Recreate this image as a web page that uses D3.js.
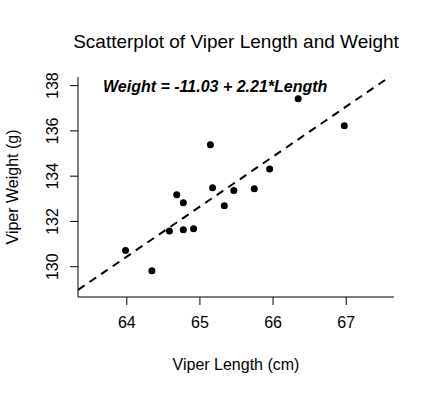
<!DOCTYPE html>
<html>
<head>
<meta charset="utf-8">
<script src="https://cdn.jsdelivr.net/npm/d3@7"></script>
<style>
  body { margin: 0; background: #fff; }
  text { font-family: "Liberation Sans", Arial, sans-serif; fill: #000; }
</style>
</head>
<body>
<svg id="chart" width="434" height="395"></svg>
<script>
var lengths = [63.99, 64.35, 64.59, 64.69, 64.78, 64.78, 64.92, 65.15, 65.18, 65.34, 65.47, 65.75, 65.96, 66.35, 66.98];
var weights = [130.69, 129.80, 131.56, 133.16, 132.80, 131.61, 131.65, 135.37, 133.47, 132.67, 133.35, 133.42, 134.30, 137.40, 136.21];
var xTicks = [64, 65, 66, 67];
var yTicks = [130, 132, 134, 136, 138];
var intercept = -11.03;
var slope = 2.21;

var svg = d3.select('#chart');
var plotLeft = 78, plotRight = 394, plotTop = 77, plotBottom = 297;

// R style 4% padding around xlim 63.5-67.5 and ylim 129-138
var x = d3.scaleLinear().domain([63.34, 67.66]).range([plotLeft, plotRight]);
var y = d3.scaleLinear().domain([128.64, 138.36]).range([plotBottom, plotTop]);

svg.append('text')
    .attr('x', (plotLeft + plotRight) / 2)
    .attr('y', 48)
    .attr('text-anchor', 'middle')
    .style('font-size', '19px')
    .text('Scatterplot of Viper Length and Weight');

var xAxis = svg.append('g')
    .attr('transform', 'translate(0,' + plotBottom + ')')
    .call(d3.axisBottom(x).tickValues(xTicks).tickSize(8).tickPadding(12).tickFormat(d3.format('d')));
xAxis.select('.domain').remove();
xAxis.selectAll('text').style('font-size', '16px');

var yAxis = svg.append('g')
    .attr('transform', 'translate(' + plotLeft + ',0)')
    .call(d3.axisLeft(y).tickValues(yTicks).tickSize(8).tickFormat(d3.format('d')));
yAxis.select('.domain').remove();
yAxis.selectAll('text')
    .style('font-size', '16px')
    .attr('text-anchor', 'middle')
    .attr('x', 0).attr('dy', 0)
    .attr('transform', 'translate(-20,0) rotate(-90)');

// L shaped box
svg.append('path')
    .attr('d', 'M' + plotLeft + ',' + plotTop + 'V' + plotBottom + 'H' + plotRight)
    .attr('fill', 'none')
    .attr('stroke', '#000');

svg.append('text')
    .attr('x', (plotLeft + plotRight) / 2)
    .attr('y', 370)
    .attr('text-anchor', 'middle')
    .style('font-size', '16px')
    .text('Viper Length (cm)');

svg.append('text')
    .attr('transform', 'translate(18,' + ((plotTop + plotBottom) / 2) + ') rotate(-90)')
    .attr('text-anchor', 'middle')
    .style('font-size', '16px')
    .text('Viper Weight (g)');

svg.append('defs').append('clipPath').attr('id', 'plotclip')
    .append('rect')
    .attr('x', plotLeft).attr('y', plotTop)
    .attr('width', plotRight - plotLeft).attr('height', plotBottom - plotTop);

var xs = x.domain();
svg.append('line')
    .attr('clip-path', 'url(#plotclip)')
    .attr('x1', x(xs[0])).attr('y1', y(intercept + slope * xs[0]))
    .attr('x2', x(xs[1])).attr('y2', y(intercept + slope * xs[1]))
    .attr('stroke', '#000')
    .attr('stroke-width', 2)
    .attr('stroke-dasharray', '8,6');

svg.selectAll('circle')
    .data(lengths)
    .enter().append('circle')
        .attr('cx', function(d) { return x(d); })
        .attr('cy', function(d, i) { return y(weights[i]); })
        .attr('r', 3.5)
        .attr('fill', '#000');

svg.append('text')
    .attr('x', 103)
    .attr('y', 92)
    .style('font-size', '16px')
    .style('font-weight', 'bold')
    .style('font-style', 'italic')
    .text('Weight = -11.03 + 2.21*Length');
</script>
</body>
</html>
